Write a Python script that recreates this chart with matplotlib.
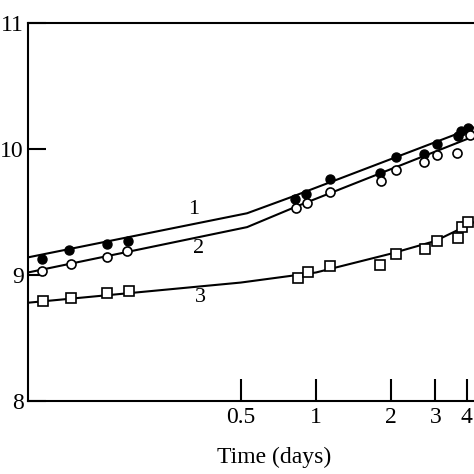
import numpy as np
import matplotlib
matplotlib.use('Agg')
import matplotlib.pyplot as plt

plt.rcParams['font.family'] = ['Liberation Serif', 'DejaVu Serif']

# data points (time in days, value)
t1 = [0.080, 0.103, 0.146, 0.177, 0.824, 0.912, 1.14, 1.80, 2.09, 2.70, 3.05, 3.70, 3.80, 4.06]
y1 = [9.13, 9.20, 9.25, 9.27, 9.60, 9.64, 9.76, 9.81, 9.94, 9.96, 10.04, 10.10, 10.14, 10.17]
t2 = [0.080, 0.105, 0.146, 0.175, 0.83, 0.92, 1.14, 1.82, 2.09, 2.70, 3.05, 3.65, 4.13]
y2 = [9.03, 9.09, 9.14, 9.19, 9.53, 9.57, 9.66, 9.75, 9.83, 9.90, 9.95, 9.97, 10.11]
t3 = [0.081, 0.105, 0.146, 0.178, 0.85, 0.93, 1.14, 1.80, 2.09, 2.74, 3.05, 3.70, 3.84, 4.07]
y3 = [8.79, 8.82, 8.86, 8.87, 8.98, 9.02, 9.07, 9.08, 9.17, 9.21, 9.27, 9.29, 9.38, 9.42]

# fitted curves
ct1 = [0.0705, 0.53, 0.80, 4.4]
cy1 = [9.14, 9.49, 9.62, 10.18]
ct2 = [0.0705, 0.53, 0.85, 4.4]
cy2 = [9.02, 9.38, 9.55, 10.11]
ct3 = [0.0705, 0.5, 1.0, 2.0, 3.0, 4.4]
cy3 = [8.78, 8.94, 9.02, 9.17, 9.27, 9.43]

fig = plt.figure(figsize=(4.74, 4.74), dpi=100)
W = 474
left, right, top, bottom = 28, 520, 23, 401
ax = fig.add_axes([left / W, 1 - bottom / W, (right - left) / W, (bottom - top) / W])
ax.set_xscale('log')
dec = 250.0
ax.set_xlim(10 ** ((left - 316) / dec), 10 ** ((right - 316) / dec))
ax.set_ylim(8, 11)

for ct, cy in [(ct1, cy1), (ct2, cy2), (ct3, cy3)]:
    ax.plot(ct, cy, color='black', lw=1.5)
ax.plot(t1, y1, 'o', ms=6.5, mfc='black', mec='black')
ax.plot(t2, y2, 'o', ms=6.5, mfc='white', mec='black', mew=1.2)
ax.plot(t3, y3, 's', ms=6.5, mfc='white', mec='black', mew=1.2)

ax.text(0.325, 9.52, '1', fontsize=16, ha='center', va='center')
ax.text(0.34, 9.21, '2', fontsize=16, ha='center', va='center')
ax.text(0.344, 8.82, '3', fontsize=16, ha='center', va='center')

ax.set_xticks([0.5, 1, 2, 3, 4])
ax.set_xticklabels(['0.5', '1', '2', '3', '4'])
ax.xaxis.set_minor_locator(matplotlib.ticker.NullLocator())
ax.set_yticks([8, 9, 10, 11])
ax.tick_params(axis='x', direction='in', length=16, width=1.5, labelsize=17, pad=4)
ax.tick_params(axis='y', direction='in', length=13, width=1.5, labelsize=17, pad=3)
ax.set_xlabel('Time (days)', fontsize=17, labelpad=14)
for s in ax.spines.values():
    s.set_linewidth(1.5)

fig.savefig('out.png', dpi=100)
